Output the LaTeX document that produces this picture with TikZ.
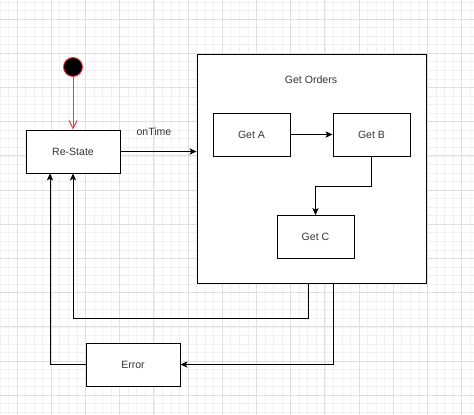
\documentclass[tikz,border=0pt]{standalone}
\usepackage{fontspec}
\setmainfont{Liberation Sans}
\usetikzlibrary{arrows.meta, positioning, calc}
\definecolor{gridminor}{RGB}{241,241,241}
\definecolor{gridmajor}{RGB}{224,224,224}
\definecolor{startred}{RGB}{232,62,62}
\definecolor{labelgray}{RGB}{51,51,51}

\begin{document}
\begin{tikzpicture}[
        x=0.02cm, y=-0.02cm,
        state/.style={draw, line width=0.55pt, fill=white, minimum width=1.88cm, minimum height=0.86cm, font=\fontsize{6}{7}\selectfont, text=labelgray},
        task/.style={state, minimum width=1.54cm},
        container/.style={draw, line width=0.55pt, fill=white, minimum width=4.6cm, minimum height=4.6cm},
        caption/.style={font=\fontsize{6}{7}\selectfont, text=labelgray},
        initial/.style={circle, fill=black, draw=startred, line width=0.55pt, minimum size=0.38cm, inner sep=0pt},
        arrow/.style={-{Stealth[length=4pt, width=3.6pt, inset=1pt]}, line width=0.55pt},
        initarrow/.style={-{Straight Barb[length=4.5pt, width=4.5pt]}, line width=0.55pt, draw=startred}
    ]
        \useasboundingbox (0,0) rectangle (474,415);

        % Grid
        \foreach \i in {-2,...,53}
            \draw[gridminor, line width=0.3pt] (17+8.55*\i,0) -- (17+8.55*\i,415);
        \foreach \i in {-2,...,46}
            \draw[gridminor, line width=0.3pt] (0,19+8.55*\i) -- (474,19+8.55*\i);
        \foreach \i in {0,...,13}
            \draw[gridmajor, line width=0.35pt] (17+34.2*\i,0) -- (17+34.2*\i,415);
        \foreach \i in {0,...,11}
            \draw[gridmajor, line width=0.35pt] (0,19+34.2*\i) -- (474,19+34.2*\i);

        % States
        \node[initial] (start) at (73, 67) {};
        \node[state] (restate) at (73, 151.5) {Re-State};
        \node[state] (error) at (133, 364.5) {Error};

        % Get Orders
        \node[container] (orders) at (312, 169) {};
        \node[caption] (orderslabel) at (311, 80) {Get Orders};
        \node[task] (geta) at (251.5, 134.5) {Get A};
        \node[task] (getb) at (371.5, 134.5) {Get B};
        \node[task] (getc) at (315.5, 237) {Get C};

        % Arrows
        \draw[initarrow] (start) -- (restate);
        \draw[arrow] (restate.east) -- node[caption, pos=0.44, above=0.2cm] (ontime) {onTime} (restate.east -| orders.west);
        \draw[arrow] (geta) -- (getb);
        \draw[arrow] (getb.south) -- ++(0, 30) -| (getc.north);

        \draw[arrow] ([xshift=-0.08cm]orders.south) -- ++(0, 34) -| (restate.south);
        \draw[arrow] ([xshift=0.42cm]orders.south) |- (error.east);
        \draw[arrow] (error.west) -| ([xshift=-0.46cm]restate.south);
    \end{tikzpicture}
\end{document}
